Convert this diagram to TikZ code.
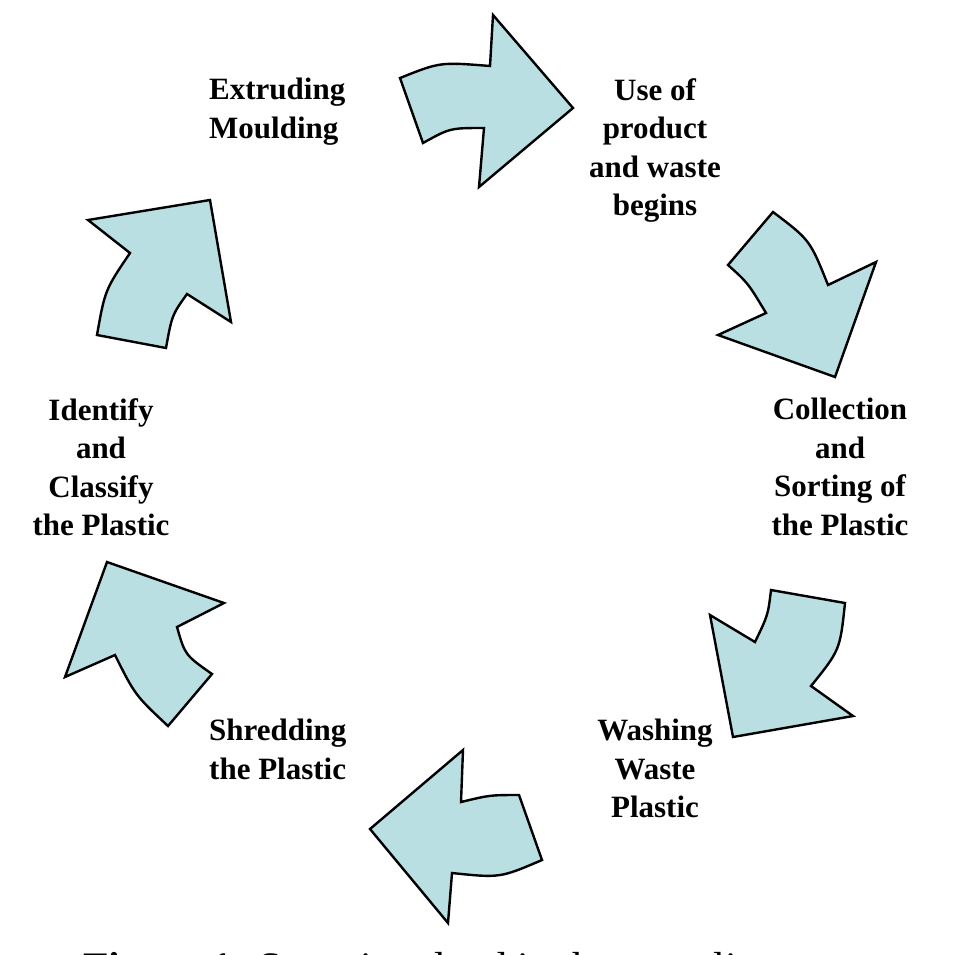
\documentclass[tikz,border=0pt]{standalone}
\usepackage{fontspec}
\setmainfont{Liberation Serif}
\begin{document}
\begin{tikzpicture}[x=1pt,y=-1pt,
  arr/.style={fill=arrfill,draw=black,line width=2.4pt,line join=miter},
  lbl/.style={font=\bfseries\fontsize{31}{38.5}\selectfont,align=center,inner sep=0pt}]
\definecolor{arrfill}{HTML}{B9DFE3}
\useasboundingbox (0,0) rectangle (957,954);
\clip (0,0) rectangle (957,954);
\draw[arr] (400,78) .. controls (440,62) .. (490,66) -- (493,15) -- (573,108) -- (479,187) -- (484,128) .. controls (450,128) .. (423,143) -- cycle;
\draw[arr] (773,212) .. controls (810,240) .. (828,285) -- (876,262) -- (835,377) -- (718,335) -- (766,313) .. controls (748,283) .. (728,265) -- cycle;
\draw[arr] (845,603) .. controls (840,650) .. (811,686) -- (853,716) -- (733,737) -- (710,615) -- (755,642) .. controls (768,615) .. (771,590) -- cycle;
\draw[arr] (542,860) .. controls (500,878) .. (452,873) -- (448,923) -- (370,829) -- (463,750) -- (461,802) .. controls (490,795) .. (519,795) -- cycle;
\draw[arr] (168,726) .. controls (135,695) .. (115,655) -- (65,677) -- (107,562) -- (224,603) -- (177,627) .. controls (185,655) .. (212,674) -- cycle;
\draw[arr] (97,335) .. controls (105,290) .. (130,253) -- (88,220) -- (210,200) -- (231,322) -- (187,294) .. controls (172,315) .. (166,348) -- cycle;
\node[lbl,align=left,anchor=north west] (a) at (209,78) {Extruding\\Moulding};
\node[lbl,anchor=north] (b) at (655,78) {Use of\\product\\and waste\\begins};
\node[lbl,anchor=north] (c) at (840,398) {Collection\\and\\Sorting of\\the Plastic};
\node[lbl,anchor=north] (d) at (655,719) {Washing\\Waste\\Plastic};
\node[lbl,align=left,anchor=north west] (e) at (209,719) {Shredding\\the Plastic};
\node[lbl,anchor=north] (f) at (101,398) {Identify\\and\\Classify\\the Plastic};
\node[anchor=base west,inner sep=0pt,font=\fontsize{42}{50}\selectfont] (cap) at (83,981) {\textbf{Figure 1}: Steps involved in the recycling process};
\end{tikzpicture}
\end{document}
